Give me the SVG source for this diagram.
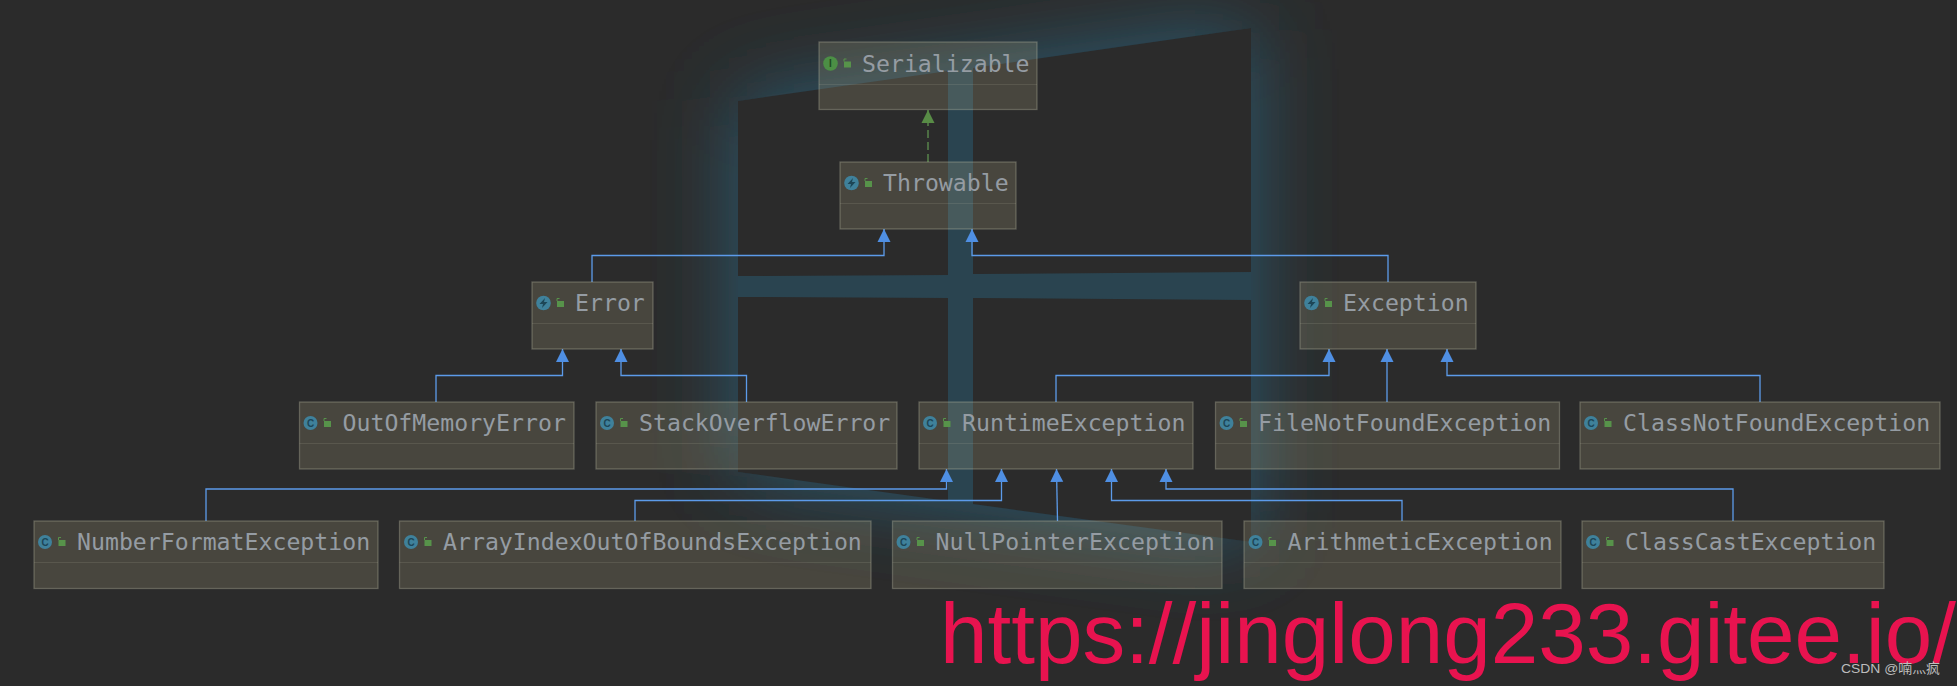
<svg xmlns="http://www.w3.org/2000/svg" width="1957" height="686" viewBox="0 0 1957 686">
<style>
.box{fill:rgba(190,178,140,.2);stroke:rgba(190,190,170,.33);stroke-width:1.3}
.div{stroke:rgba(190,190,170,.15);stroke-width:1}
.lbl{font-family:"DejaVu Sans Mono","Liberation Mono",monospace;font-size:23.2px;fill:#959ca3}
.ic{fill:#3f819b}
.ii{fill:#4c8f45}
.gl{font-family:"Liberation Sans",sans-serif;font-size:10px;font-weight:700;text-anchor:middle;fill:#1d4657}
.gi{fill:#1e4a22}
.lk{fill:#57934a}
.lks{fill:none;stroke:#57934a;stroke-width:1}
.ab{fill:#1d4657}
.c{fill:none;stroke:#5c9bea;stroke-width:1.3;marker-end:url(#ab)}
.d{fill:none;stroke:#5f9150;stroke-width:1.3;stroke-dasharray:8 4;marker-end:url(#ag)}
</style>
<defs>
<marker id="ab" markerUnits="userSpaceOnUse" markerWidth="14" markerHeight="14" refX="13" refY="7" orient="auto"><path d="M0,0.500 L13,7 L0,13.500Z" fill="#4f8fe3"/></marker>
<marker id="ag" markerUnits="userSpaceOnUse" markerWidth="14" markerHeight="14" refX="13" refY="7" orient="auto"><path d="M0,0.500 L13,7 L0,13.500Z" fill="#588c46"/></marker>
<filter id="glow" x="-40%" y="-40%" width="180%" height="180%"><feGaussianBlur stdDeviation="42"/></filter>
<g id="lock"><rect class="lk" x="-3" y="-2.500" width="7" height="6"/><path class="lks" d="M-3,-2.500 V-5 H-0.500"/></g>
<path id="bolt" class="ab" d="M1.500,-5 L-4,1 H-0.500 L-1.500,5 L4,-1 H0.500Z"/>
</defs>
<rect width="1957" height="686" fill="#2b2b2b"/>
<g id="backdrop">
<polygon points="738,101 1251,28 1251,542 738,472" fill="#295c72" filter="url(#glow)"/>
<polygon points="738,101 1251,28 1251,542 738,472" fill="#2a4450"/>
<polygon points="738,101 948,71 948,275 738,276" fill="#2b2b2b"/>
<polygon points="973,68 1251,28 1251,272 973,274" fill="#2b2b2b"/>
<polygon points="738,297 948,298 948,501 738,472" fill="#2b2b2b"/>
<polygon points="973,298 1251,300 1251,542 973,504" fill="#2b2b2b"/>
</g>
<g id="connectors">
<path class="d" d="M928,162 V110"/>
<path class="c" d="M592,282 V255.500 H884 V229"/>
<path class="c" d="M1388,282 V255.500 H972 V229"/>
<path class="c" d="M436,402 V375.500 H562.500 V349"/>
<path class="c" d="M746.500,402 V375.500 H621 V349"/>
<path class="c" d="M1056,402 V375.500 H1329 V349"/>
<path class="c" d="M1387,402 V349"/>
<path class="c" d="M1760,402 V375.500 H1447 V349"/>
<path class="c" d="M206,521 V489 H946.500 V469"/>
<path class="c" d="M635,521 V500.500 H1001.500 V469"/>
<path class="c" d="M1057.500,521 L1056.500,469"/>
<path class="c" d="M1402,521 V500.500 H1111.500 V469"/>
<path class="c" d="M1733,521 V489 H1166 V469"/>
</g>
<g id="serializable"><rect class="box" x="819" y="42" width="218" height="67.500"/><line class="div" x1="819" y1="84.500" x2="1037" y2="84.500"/><circle class="ii" cx="830.500" cy="63.500" r="7.300"/><text class="gl gi" x="830.500" y="67">I</text><use href="#lock" x="847" y="64"/><text class="lbl" x="862" y="71.500">Serializable</text></g>
<g id="throwable"><rect class="box" x="840" y="162" width="176" height="67"/><line class="div" x1="840" y1="203.500" x2="1016" y2="203.500"/><circle class="ic" cx="851.500" cy="183" r="7.300"/><use href="#bolt" x="851.500" y="183"/><use href="#lock" x="868" y="183.500"/><text class="lbl" x="883" y="191">Throwable</text></g>
<g id="error"><rect class="box" x="532" y="282" width="121" height="67"/><line class="div" x1="532" y1="323.500" x2="653" y2="323.500"/><circle class="ic" cx="543.500" cy="303" r="7.300"/><use href="#bolt" x="543.500" y="303"/><use href="#lock" x="560" y="303.500"/><text class="lbl" x="575" y="311">Error</text></g>
<g id="exception"><rect class="box" x="1300" y="282" width="176" height="67"/><line class="div" x1="1300" y1="323.500" x2="1476" y2="323.500"/><circle class="ic" cx="1311.500" cy="303" r="7.300"/><use href="#bolt" x="1311.500" y="303"/><use href="#lock" x="1328" y="303.500"/><text class="lbl" x="1343" y="311">Exception</text></g>
<g id="outofmemoryerror"><rect class="box" x="299.500" y="402" width="274.500" height="67"/><line class="div" x1="299.500" y1="443.500" x2="574" y2="443.500"/><circle class="ic" cx="310.500" cy="423" r="7"/><text class="gl" x="310.500" y="426.500">C</text><use href="#lock" x="327" y="423.500"/><text class="lbl" x="342.500" y="431">OutOfMemoryError</text></g>
<g id="stackoverflowerror"><rect class="box" x="596" y="402" width="301" height="67"/><line class="div" x1="596" y1="443.500" x2="897" y2="443.500"/><circle class="ic" cx="607" cy="423" r="7"/><text class="gl" x="607" y="426.500">C</text><use href="#lock" x="623.500" y="423.500"/><text class="lbl" x="639" y="431">StackOverflowError</text></g>
<g id="runtimeexception"><rect class="box" x="919" y="402" width="274" height="67"/><line class="div" x1="919" y1="443.500" x2="1193" y2="443.500"/><circle class="ic" cx="930" cy="423" r="7"/><text class="gl" x="930" y="426.500">C</text><use href="#lock" x="946.500" y="423.500"/><text class="lbl" x="962" y="431">RuntimeException</text></g>
<g id="filenotfoundexception"><rect class="box" x="1215.500" y="402" width="344" height="67"/><line class="div" x1="1215.500" y1="443.500" x2="1559.500" y2="443.500"/><circle class="ic" cx="1226.500" cy="423" r="7"/><text class="gl" x="1226.500" y="426.500">C</text><use href="#lock" x="1243" y="423.500"/><text class="lbl" x="1258" y="431">FileNotFoundException</text></g>
<g id="classnotfoundexception"><rect class="box" x="1580" y="402" width="360" height="67"/><line class="div" x1="1580" y1="443.500" x2="1940" y2="443.500"/><circle class="ic" cx="1591" cy="423" r="7"/><text class="gl" x="1591" y="426.500">C</text><use href="#lock" x="1607.500" y="423.500"/><text class="lbl" x="1623" y="431">ClassNotFoundException</text></g>
<g id="numberformatexception"><rect class="box" x="34" y="521" width="344" height="67.500"/><line class="div" x1="34" y1="562.500" x2="378" y2="562.500"/><circle class="ic" cx="45" cy="542" r="7"/><text class="gl" x="45" y="545.500">C</text><use href="#lock" x="61.500" y="542.500"/><text class="lbl" x="77" y="550">NumberFormatException</text></g>
<g id="arrayindexoutofboundsexception"><rect class="box" x="399.500" y="521" width="471.500" height="67.500"/><line class="div" x1="399.500" y1="562.500" x2="871" y2="562.500"/><circle class="ic" cx="411" cy="542" r="7"/><text class="gl" x="411" y="545.500">C</text><use href="#lock" x="427.500" y="542.500"/><text class="lbl" x="443" y="550">ArrayIndexOutOfBoundsException</text></g>
<g id="nullpointerexception"><rect class="box" x="892.500" y="521" width="329.500" height="67.500"/><line class="div" x1="892.500" y1="562.500" x2="1222" y2="562.500"/><circle class="ic" cx="903.500" cy="542" r="7"/><text class="gl" x="903.500" y="545.500">C</text><use href="#lock" x="920" y="542.500"/><text class="lbl" x="935.500" y="550">NullPointerException</text></g>
<g id="arithmeticexception"><rect class="box" x="1244" y="521" width="317" height="67.500"/><line class="div" x1="1244" y1="562.500" x2="1561" y2="562.500"/><circle class="ic" cx="1255.500" cy="542" r="7"/><text class="gl" x="1255.500" y="545.500">C</text><use href="#lock" x="1272" y="542.500"/><text class="lbl" x="1287.500" y="550">ArithmeticException</text></g>
<g id="classcastexception"><rect class="box" x="1582" y="521" width="302" height="67.500"/><line class="div" x1="1582" y1="562.500" x2="1884" y2="562.500"/><circle class="ic" cx="1593" cy="542" r="7"/><text class="gl" x="1593" y="545.500">C</text><use href="#lock" x="1609.500" y="542.500"/><text class="lbl" x="1625" y="550">ClassCastException</text></g>
<text x="940" y="663" font-family="Liberation Sans,Arial,sans-serif" font-size="85" fill="#e8134f" textLength="1016" lengthAdjust="spacingAndGlyphs">https://jinglong233.gitee.io/</text>
<text x="1841" y="673" font-family="Liberation Sans,Noto Sans CJK SC,sans-serif" font-size="13.500" fill="#bdbdbd" textLength="99" lengthAdjust="spacingAndGlyphs">CSDN @喃灬疯</text>
</svg>
